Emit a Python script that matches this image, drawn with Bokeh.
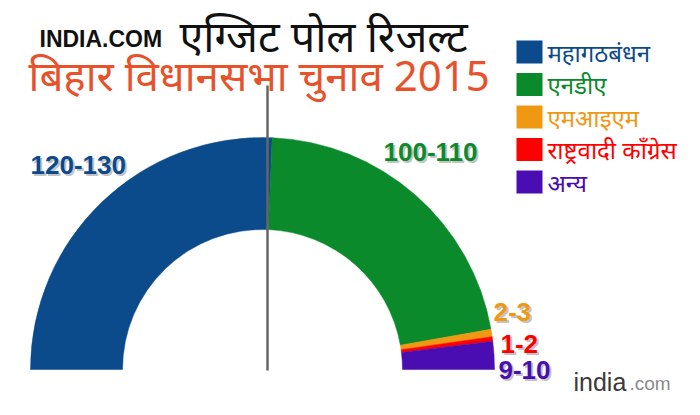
import numpy as np
from bokeh.plotting import figure
from bokeh.models import Range1d
from bokeh.core.properties import value
from bokeh.embed import file_html
from bokeh.resources import INLINE

# Bihar assembly election 2015 - exit poll (india.com)
parties = ["महागठबंधन", "एनडीए", "एमआइएम", "राष्ट्रवादी  काँग्रेस", "अन्य"]
seat_ranges = ["120-130", "100-110", "2-3", "1-2", "9-10"]
seats = [125, 105, 2.5, 1.5, 9.5]
colors = ["#0b4a8b", "#0a8a2b", "#ef9812", "#ff0000", "#4a0db1"]

title_en = "INDIA.COM"
title_hi = "एग्जिट पोल रिजल्ट"
subtitle = "बिहार विधानसभा चुनाव 2015"

W, H = 684, 399
# data units == screen pixels of the reference (y measured upward from bottom)
p = figure(width=W, height=H, x_range=Range1d(0, W), y_range=Range1d(415 - H, 415),
           output_backend="svg", toolbar_location=None, tools="",
           x_axis_type=None, y_axis_type=None, min_border=0)
p.grid.visible = False
p.outline_line_color = None
p.background_fill_color = "white"

def Y(py):
    # reference pixel row -> data y
    return 415 - py

# half donut, drawn clockwise from the left
frac = np.array(seats) / np.sum(seats)
cum = np.concatenate([[0], np.cumsum(frac)])
start = np.pi - cum[:-1] * np.pi
end = np.pi - cum[1:] * np.pi
p.annular_wedge(x=262, y=Y(369), inner_radius=140, outer_radius=232,
                start_angle=start, end_angle=end, direction="clock",
                fill_color=colors, line_color=colors, line_width=0.5)

# majority divider
p.segment(x0=[267], y0=[Y(85)], x1=[267], y1=[Y(370)], line_color="#666666", line_width=2.5)

# titles
bold_font = value("Liberation Sans")
p.text(x=[39], y=[Y(38)], text=[title_en], text_font=bold_font, text_font_size="23px",
       text_font_style="bold", text_color="#111111", text_baseline="middle")
p.text(x=[179], y=[Y(35)], text=[title_hi], text_font=value("Noto Sans"), text_font_size="43px",
       text_color="#111111", text_baseline="middle")
p.text(x=[28], y=[Y(74)], text=[subtitle], text_font=value("Noto Sans"), text_font_size="42px",
       text_color="#e8522b", text_baseline="middle")

# seat labels with a soft shadow
lab_x = [30, 383, 493, 500, 498]
lab_y = [Y(164), Y(151), Y(311), Y(343), Y(369)]
p.text(x=[v + 2 for v in lab_x], y=[v - 2 for v in lab_y], text=seat_ranges, text_font=bold_font,
       text_font_size="26px", text_font_style="bold", text_color="#888888", text_alpha=0.5,
       text_baseline="middle")
p.text(x=lab_x, y=lab_y, text=seat_ranges, text_font=bold_font, text_font_size="26px",
       text_font_style="bold", text_color=colors, text_baseline="middle")

# legend
leg_y = [Y(51.5 + 32.5 * i) for i in range(len(parties))]
p.rect(x=[529] * len(parties), y=leg_y, width=26, height=23, fill_color=colors, line_color=None)
p.text(x=[547] * len(parties), y=leg_y, text=parties, text_font=value("Noto Sans"),
       text_font_size="24px", text_color=colors, text_baseline="middle")

# logo
p.text(x=[573], y=[Y(381)], text=["india"], text_font=value("Liberation Sans"), text_font_size="25px",
       text_color="#3a3a3a", text_baseline="middle")
p.text(x=[629], y=[Y(383)], text=[".com"], text_font=value("Liberation Sans"), text_font_size="19px",
       text_color="#8a8a8a", text_baseline="middle")

open("out.html", "w").write(file_html(p, INLINE))
